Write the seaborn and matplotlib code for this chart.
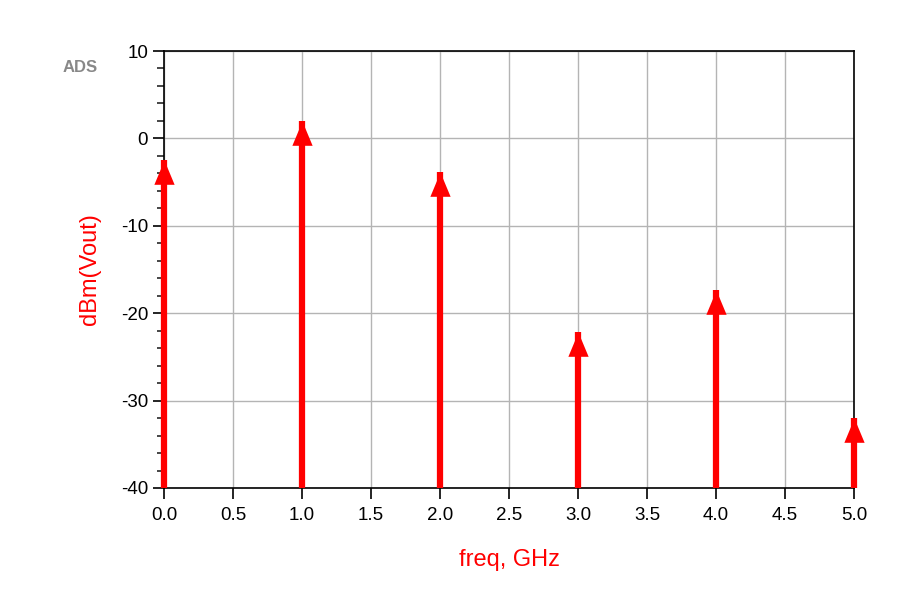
import matplotlib
matplotlib.use("Agg")
import matplotlib.pyplot as plt
import seaborn as sns
from matplotlib.ticker import MultipleLocator
from matplotlib.path import Path

freq = [0.0, 1.0, 2.0, 3.0, 4.0, 5.0]
dbm = [-2.5, 2.0, -3.9, -22.1, -17.4, -32.0]
xticks = [0.0, 0.5, 1.0, 1.5, 2.0, 2.5, 3.0, 3.5, 4.0, 4.5, 5.0]
yticks = [10, 0, -10, -20, -30, -40]

sns.set_style("white")
plt.rcParams['font.family'] = ['Liberation Sans', 'DejaVu Sans']
plt.rcParams['axes.unicode_minus'] = False
fig = plt.figure(figsize=(9.13, 6.12), dpi=100)
ax = fig.add_axes([164/913, 1-488/612, (854-164)/913, (488-51)/612])
ax.set_xlim(0, 5)
ax.set_ylim(-40, 10)
ax.set_xticks(xticks)
ax.set_xticklabels([f"{t:.1f}" for t in xticks])
ax.set_yticks(yticks)
ax.yaxis.set_minor_locator(MultipleLocator(2))
ax.grid(True, color="#b4b4b4", lw=1)
ax.set_axisbelow(True)
for s in ax.spines.values():
    s.set_color("black"); s.set_linewidth(1.2)
ax.tick_params(axis='both', which='major', direction='out', length=8, width=1.2,
               labelsize=13.5, colors='black', bottom=True, left=True)
ax.tick_params(axis='y', which='minor', direction='out', length=5, width=1.2, left=True)
ax.tick_params(axis='x', pad=6)

head = Path([(-10, -24), (10, -24), (0, 0), (-10, -24)],
            [Path.MOVETO, Path.LINETO, Path.LINETO, Path.CLOSEPOLY])
ax.vlines(freq, -40, dbm, color="red", lw=4.5, capstyle='butt', clip_on=False, zorder=3)
ax.plot(freq, dbm, linestyle='none', marker=head, markersize=35, color='red',
        markeredgewidth=0, clip_on=False, zorder=4)

ax.set_xlabel("freq, GHz", color="red", fontsize=17, labelpad=18)
ax.set_ylabel("dBm(Vout)", color="red", fontsize=17, labelpad=14)
fig.text(63/913, 1-67/612, "ADS", color="#888888", fontsize=12, fontweight='bold', va='center')
fig.savefig("out.png", dpi=100)
